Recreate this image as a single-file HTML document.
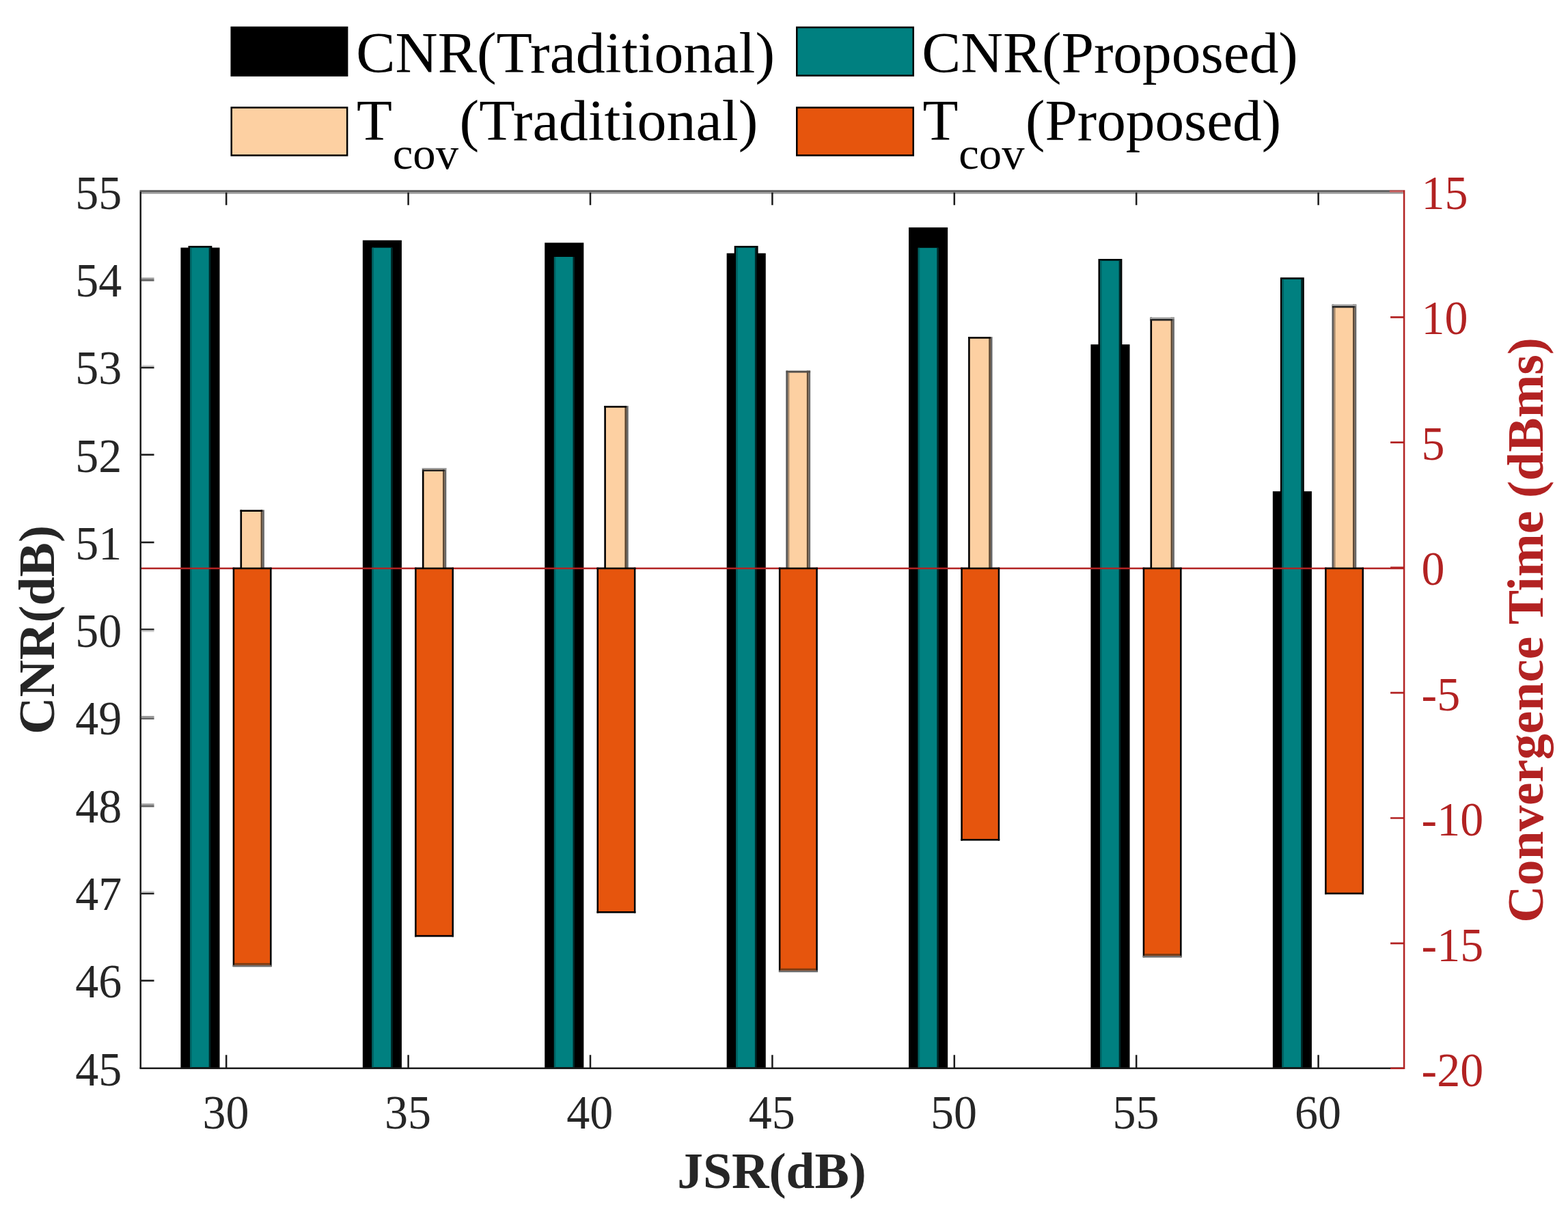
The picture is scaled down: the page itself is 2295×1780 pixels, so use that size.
<!DOCTYPE html>
<html lang="en"><head><meta charset="utf-8"><title>CNR and convergence time versus JSR</title>
<style>html,body{margin:0;padding:0;background:#fff}body{width:2295px;height:1780px;overflow:hidden}svg{display:block}text{font-family:"Liberation Serif","Times New Roman",serif;white-space:pre}</style></head><body>
<svg width="2295" height="1780" viewBox="0 0 2295 1780">
<rect x="0" y="0" width="2295" height="1780" fill="#fff"/>
<g>
<rect x="264.45" y="362.50" width="57.10" height="1201.30" fill="#000"/>
<rect x="530.85" y="351.70" width="57.10" height="1212.10" fill="#000"/>
<rect x="797.25" y="355.30" width="57.10" height="1208.50" fill="#000"/>
<rect x="1063.65" y="370.70" width="57.10" height="1193.10" fill="#000"/>
<rect x="1330.05" y="332.90" width="57.10" height="1230.90" fill="#000"/>
<rect x="1596.45" y="504.20" width="57.10" height="1059.60" fill="#000"/>
<rect x="1862.85" y="719.20" width="57.10" height="844.60" fill="#000"/>
<rect x="276.80" y="361.20" width="32.30" height="1202.30" fill="#008080" stroke="#000" stroke-width="2.60"/>
<rect x="278.10" y="362.50" width="2.50" height="1200.10" fill="#006262"/>
<rect x="305.70" y="362.50" width="2.60" height="1200.10" fill="#002626"/>
<rect x="543.20" y="361.30" width="32.30" height="1202.20" fill="#008080" stroke="#000" stroke-width="2.60"/>
<rect x="544.50" y="362.60" width="2.50" height="1200.00" fill="#006262"/>
<rect x="572.10" y="362.60" width="2.60" height="1200.00" fill="#002626"/>
<rect x="809.60" y="374.70" width="32.30" height="1188.80" fill="#008080" stroke="#000" stroke-width="2.60"/>
<rect x="810.90" y="376.00" width="2.50" height="1186.60" fill="#006262"/>
<rect x="838.50" y="376.00" width="2.60" height="1186.60" fill="#002626"/>
<rect x="1076.00" y="361.20" width="32.30" height="1202.30" fill="#008080" stroke="#000" stroke-width="2.60"/>
<rect x="1077.30" y="362.50" width="2.50" height="1200.10" fill="#006262"/>
<rect x="1104.90" y="362.50" width="2.60" height="1200.10" fill="#002626"/>
<rect x="1342.40" y="361.50" width="32.30" height="1202.00" fill="#008080" stroke="#000" stroke-width="2.60"/>
<rect x="1343.70" y="362.80" width="2.50" height="1199.80" fill="#006262"/>
<rect x="1371.30" y="362.80" width="2.60" height="1199.80" fill="#002626"/>
<rect x="1608.80" y="380.30" width="32.30" height="1183.20" fill="#008080" stroke="#000" stroke-width="2.60"/>
<rect x="1610.10" y="381.60" width="2.50" height="1181.00" fill="#006262"/>
<rect x="1637.70" y="381.60" width="2.60" height="1181.00" fill="#002626"/>
<rect x="1875.20" y="407.50" width="32.30" height="1156.00" fill="#008080" stroke="#000" stroke-width="2.60"/>
<rect x="1876.50" y="408.80" width="2.50" height="1153.80" fill="#006262"/>
<rect x="1904.10" y="408.80" width="2.60" height="1153.80" fill="#002626"/>
</g>
<line x1="205.8" y1="832.0" x2="2055.1" y2="832.0" stroke="#b22222" stroke-width="2.5"/>
<g>
<rect x="352.50" y="747.40" width="31.80" height="84.60" fill="#fdd0a2"/>
<rect x="351.50" y="746.40" width="2.60" height="85.60" fill="#000"/>
<rect x="381.60" y="746.40" width="2.70" height="85.60" fill="#5e4a36"/>
<rect x="384.30" y="746.40" width="2.60" height="85.60" fill="#666"/>
<rect x="351.50" y="746.40" width="32.80" height="2.60" fill="#000"/>
<rect x="618.90" y="686.00" width="31.80" height="146.00" fill="#fdd0a2"/>
<rect x="617.90" y="685.00" width="2.60" height="147.00" fill="#000"/>
<rect x="648.00" y="685.00" width="2.70" height="147.00" fill="#5e4a36"/>
<rect x="650.70" y="685.00" width="2.60" height="147.00" fill="#666"/>
<rect x="617.90" y="685.00" width="35.40" height="2.50" fill="#a0a0a0"/>
<rect x="617.90" y="687.50" width="32.80" height="2.50" fill="#222"/>
<rect x="885.30" y="595.10" width="31.80" height="236.90" fill="#fdd0a2"/>
<rect x="884.30" y="594.10" width="2.60" height="237.90" fill="#000"/>
<rect x="914.40" y="594.10" width="2.70" height="237.90" fill="#5e4a36"/>
<rect x="917.10" y="594.10" width="2.60" height="237.90" fill="#666"/>
<rect x="884.30" y="594.10" width="32.80" height="2.60" fill="#000"/>
<rect x="1151.70" y="543.60" width="31.80" height="288.40" fill="#fdd0a2"/>
<rect x="1150.30" y="542.60" width="2.80" height="289.40" fill="#5a5a5a"/>
<rect x="1153.10" y="545.60" width="2.20" height="286.40" fill="#a08468"/>
<rect x="1180.80" y="542.60" width="2.70" height="289.40" fill="#5e4a36"/>
<rect x="1183.50" y="542.60" width="2.60" height="289.40" fill="#666"/>
<rect x="1150.70" y="542.60" width="35.40" height="3.00" fill="#54504c"/>
<rect x="1418.10" y="494.10" width="31.80" height="337.90" fill="#fdd0a2"/>
<rect x="1417.10" y="493.10" width="2.60" height="338.90" fill="#000"/>
<rect x="1447.20" y="493.10" width="2.70" height="338.90" fill="#5e4a36"/>
<rect x="1449.90" y="493.10" width="2.60" height="338.90" fill="#666"/>
<rect x="1417.10" y="493.10" width="32.80" height="2.60" fill="#000"/>
<rect x="1684.50" y="465.50" width="31.80" height="366.50" fill="#fdd0a2"/>
<rect x="1683.50" y="464.50" width="2.60" height="367.50" fill="#000"/>
<rect x="1713.60" y="464.50" width="2.70" height="367.50" fill="#5e4a36"/>
<rect x="1716.30" y="464.50" width="2.60" height="367.50" fill="#666"/>
<rect x="1683.50" y="464.50" width="35.40" height="2.50" fill="#a0a0a0"/>
<rect x="1683.50" y="467.00" width="32.80" height="2.50" fill="#222"/>
<rect x="1950.90" y="446.50" width="31.80" height="385.50" fill="#fdd0a2"/>
<rect x="1949.50" y="445.50" width="2.80" height="386.50" fill="#5a5a5a"/>
<rect x="1952.30" y="450.50" width="2.20" height="381.50" fill="#a08468"/>
<rect x="1980.00" y="445.50" width="2.70" height="386.50" fill="#5e4a36"/>
<rect x="1982.70" y="445.50" width="2.60" height="386.50" fill="#666"/>
<rect x="1949.90" y="445.50" width="35.40" height="2.50" fill="#a0a0a0"/>
<rect x="1949.90" y="448.00" width="32.80" height="2.50" fill="#222"/>
<rect x="341.70" y="832.00" width="54.90" height="581.80" fill="#e6550d"/>
<rect x="340.70" y="830.75" width="56.90" height="2.50" fill="#000"/>
<rect x="340.70" y="830.75" width="2.50" height="584.25" fill="#000"/>
<rect x="395.10" y="830.75" width="2.50" height="584.25" fill="#000"/>
<rect x="343.20" y="1409.80" width="51.90" height="2.80" fill="#7a3a12"/>
<rect x="340.70" y="1412.60" width="56.90" height="2.80" fill="#6e6e6e"/>
<rect x="608.10" y="832.00" width="54.90" height="538.20" fill="#e6550d"/>
<rect x="607.10" y="830.75" width="56.90" height="2.50" fill="#000"/>
<rect x="607.10" y="830.75" width="2.50" height="540.65" fill="#000"/>
<rect x="661.50" y="830.75" width="2.50" height="540.65" fill="#000"/>
<rect x="607.10" y="1368.80" width="56.90" height="2.60" fill="#000"/>
<rect x="874.50" y="832.00" width="54.90" height="503.40" fill="#e6550d"/>
<rect x="873.50" y="830.75" width="56.90" height="2.50" fill="#000"/>
<rect x="873.50" y="830.75" width="2.50" height="505.85" fill="#000"/>
<rect x="927.90" y="830.75" width="2.50" height="505.85" fill="#000"/>
<rect x="873.50" y="1334.00" width="56.90" height="2.60" fill="#000"/>
<rect x="1140.90" y="832.00" width="54.90" height="589.60" fill="#e6550d"/>
<rect x="1139.90" y="830.75" width="56.90" height="2.50" fill="#000"/>
<rect x="1139.90" y="830.75" width="2.50" height="592.05" fill="#000"/>
<rect x="1194.30" y="830.75" width="2.50" height="592.05" fill="#000"/>
<rect x="1142.40" y="1417.60" width="51.90" height="2.80" fill="#7a3a12"/>
<rect x="1139.90" y="1420.40" width="56.90" height="2.80" fill="#6e6e6e"/>
<rect x="1407.30" y="832.00" width="54.90" height="397.40" fill="#e6550d"/>
<rect x="1406.30" y="830.75" width="56.90" height="2.50" fill="#000"/>
<rect x="1406.30" y="830.75" width="2.50" height="399.85" fill="#000"/>
<rect x="1460.70" y="830.75" width="2.50" height="399.85" fill="#000"/>
<rect x="1406.30" y="1228.00" width="56.90" height="2.60" fill="#000"/>
<rect x="1673.70" y="832.00" width="54.90" height="568.10" fill="#e6550d"/>
<rect x="1672.70" y="830.75" width="56.90" height="2.50" fill="#000"/>
<rect x="1672.70" y="830.75" width="2.50" height="570.55" fill="#000"/>
<rect x="1727.10" y="830.75" width="2.50" height="570.55" fill="#000"/>
<rect x="1675.20" y="1396.10" width="51.90" height="2.80" fill="#7a3a12"/>
<rect x="1672.70" y="1398.90" width="56.90" height="2.80" fill="#6e6e6e"/>
<rect x="1940.10" y="832.00" width="54.90" height="476.00" fill="#e6550d"/>
<rect x="1939.10" y="830.75" width="56.90" height="2.50" fill="#000"/>
<rect x="1939.10" y="830.75" width="2.50" height="478.45" fill="#000"/>
<rect x="1993.50" y="830.75" width="2.50" height="478.45" fill="#000"/>
<rect x="1939.10" y="1306.60" width="56.90" height="2.60" fill="#000"/>
</g>
<g fill="none">
<path stroke="#5e5e5e" stroke-width="2.7" d="M204.50 279.65 H2053.85"/>
<path stroke="#9c9c9c" stroke-width="2.8" d="M207.00 282.4 H2053.85"/>
<path stroke="#1c1c1c" stroke-width="2.5" d="M204.50 1563.80 H2053.85"/>
<path stroke="#1c1c1c" stroke-width="2.5" d="M205.75 280.70 V1563.80"/>
<path stroke="#1c1c1c" stroke-width="2.5" d="M331.2 281.7 v18.5 M331.2 1563.8 v-19.5 M597.6 281.7 v18.5 M597.6 1563.8 v-19.5 M864.0 281.7 v18.5 M864.0 1563.8 v-19.5 M1130.4 281.7 v18.5 M1130.4 1563.8 v-19.5 M1396.8 281.7 v18.5 M1396.8 1563.8 v-19.5 M1663.2 281.7 v18.5 M1663.2 1563.8 v-19.5 M1929.6 281.7 v18.5 M1929.6 1563.8 v-19.5 "/>
<rect x="206.80" y="1434.19" width="18.75" height="2.60" fill="#1c1c1c"/>
<rect x="206.80" y="1304.28" width="18.75" height="2.50" fill="#cfcfcf"/>
<rect x="206.80" y="1306.78" width="18.75" height="2.50" fill="#222"/>
<rect x="206.80" y="1176.27" width="18.75" height="2.60" fill="#9a9a9a"/>
<rect x="206.80" y="1178.87" width="18.75" height="2.60" fill="#646464"/>
<rect x="206.80" y="1047.96" width="18.75" height="2.60" fill="#9a9a9a"/>
<rect x="206.80" y="1050.56" width="18.75" height="2.60" fill="#646464"/>
<rect x="206.80" y="920.15" width="18.75" height="2.50" fill="#222"/>
<rect x="206.80" y="922.65" width="18.75" height="2.50" fill="#cfcfcf"/>
<rect x="206.80" y="792.64" width="18.75" height="2.60" fill="#1c1c1c"/>
<rect x="206.80" y="664.33" width="18.75" height="2.60" fill="#1c1c1c"/>
<rect x="206.80" y="534.42" width="18.75" height="2.50" fill="#cfcfcf"/>
<rect x="206.80" y="536.92" width="18.75" height="2.50" fill="#222"/>
<rect x="206.80" y="406.41" width="18.75" height="2.60" fill="#9a9a9a"/>
<rect x="206.80" y="409.01" width="18.75" height="2.60" fill="#646464"/>
</g>
<g stroke="#b22222" fill="none">
<path stroke-width="2.5" d="M2055.10 278.30 V1565.05"/>
<path stroke="#c65c5c" stroke-width="3" d="M2053.85 279.9 h-20"/>
<path stroke-width="2.5" d="M2055.10 1563.80 h-20"/>
<path stroke-width="2.7" d="M2055.1 1380.8 h-20 M2055.1 1197.5 h-20 M2055.1 1014.2 h-20 M2055.1 830.9 h-20 M2055.1 647.6 h-20 M2055.1 464.3 h-20 "/>
</g>
<g>
<text x="296.50" y="1652.40" font-size="70.30" textLength="68.00" lengthAdjust="spacingAndGlyphs" fill="#262626">30</text>
<text x="562.90" y="1652.40" font-size="70.30" textLength="68.00" lengthAdjust="spacingAndGlyphs" fill="#262626">35</text>
<text x="829.30" y="1652.40" font-size="70.30" textLength="68.00" lengthAdjust="spacingAndGlyphs" fill="#262626">40</text>
<text x="1095.70" y="1652.40" font-size="70.30" textLength="68.00" lengthAdjust="spacingAndGlyphs" fill="#262626">45</text>
<text x="1362.10" y="1652.40" font-size="70.30" textLength="68.00" lengthAdjust="spacingAndGlyphs" fill="#262626">50</text>
<text x="1628.50" y="1652.40" font-size="70.30" textLength="68.00" lengthAdjust="spacingAndGlyphs" fill="#262626">55</text>
<text x="1894.90" y="1652.40" font-size="70.30" textLength="68.00" lengthAdjust="spacingAndGlyphs" fill="#262626">60</text>
</g>
<g>
<text x="110.30" y="1588.70" font-size="70.30" textLength="68.00" lengthAdjust="spacingAndGlyphs" fill="#262626">45</text>
<text x="110.30" y="1460.39" font-size="70.30" textLength="68.00" lengthAdjust="spacingAndGlyphs" fill="#262626">46</text>
<text x="110.30" y="1332.08" font-size="70.30" textLength="68.00" lengthAdjust="spacingAndGlyphs" fill="#262626">47</text>
<text x="110.30" y="1203.77" font-size="70.30" textLength="68.00" lengthAdjust="spacingAndGlyphs" fill="#262626">48</text>
<text x="110.30" y="1075.46" font-size="70.30" textLength="68.00" lengthAdjust="spacingAndGlyphs" fill="#262626">49</text>
<text x="110.30" y="947.15" font-size="70.30" textLength="68.00" lengthAdjust="spacingAndGlyphs" fill="#262626">50</text>
<text x="110.30" y="818.84" font-size="70.30" textLength="68.00" lengthAdjust="spacingAndGlyphs" fill="#262626">51</text>
<text x="110.30" y="690.53" font-size="70.30" textLength="68.00" lengthAdjust="spacingAndGlyphs" fill="#262626">52</text>
<text x="110.30" y="562.22" font-size="70.30" textLength="68.00" lengthAdjust="spacingAndGlyphs" fill="#262626">53</text>
<text x="110.30" y="433.91" font-size="70.30" textLength="68.00" lengthAdjust="spacingAndGlyphs" fill="#262626">54</text>
<text x="110.30" y="305.60" font-size="70.30" textLength="68.00" lengthAdjust="spacingAndGlyphs" fill="#262626">55</text>
</g>
<g>
<text x="2080.50" y="1590.00" font-size="70.30" textLength="90.65" lengthAdjust="spacingAndGlyphs" fill="#b22222">-20</text>
<text x="2080.50" y="1406.53" font-size="70.30" textLength="90.65" lengthAdjust="spacingAndGlyphs" fill="#b22222">-15</text>
<text x="2080.50" y="1223.06" font-size="70.30" textLength="90.65" lengthAdjust="spacingAndGlyphs" fill="#b22222">-10</text>
<text x="2080.50" y="1039.59" font-size="70.30" textLength="56.65" lengthAdjust="spacingAndGlyphs" fill="#b22222">-5</text>
<text x="2080.50" y="856.11" font-size="70.30" textLength="34.00" lengthAdjust="spacingAndGlyphs" fill="#b22222">0</text>
<text x="2080.50" y="672.64" font-size="70.30" textLength="34.00" lengthAdjust="spacingAndGlyphs" fill="#b22222">5</text>
<text x="2080.50" y="489.17" font-size="70.30" textLength="68.00" lengthAdjust="spacingAndGlyphs" fill="#b22222">10</text>
<text x="2080.50" y="305.70" font-size="70.30" textLength="68.00" lengthAdjust="spacingAndGlyphs" fill="#b22222">15</text>
</g>
<text x="991.19" y="1739.20" font-size="73.00" textLength="276.82" lengthAdjust="spacingAndGlyphs" fill="#262626" font-weight="bold">JSR(dB)</text>
<text transform="translate(79.30 922.00) rotate(-90)" x="-153.06" y="0" font-size="73.00" textLength="306.12" lengthAdjust="spacingAndGlyphs" fill="#262626" font-weight="bold">CNR(dB)</text>
<text transform="translate(2258.00 922.50) rotate(-90)" x="-428.37" y="0" font-size="73.00" textLength="856.75" lengthAdjust="spacingAndGlyphs" fill="#b22222" font-weight="bold">Convergence Time (dBms)</text>
<rect x="337.50" y="38.80" width="171.90" height="73.10" fill="#000"/>
<rect x="1166.25" y="40.05" width="170.50" height="70.60" fill="#008080" stroke="#000" stroke-width="2.50"/>
<rect x="338.75" y="157.45" width="169.40" height="70.00" fill="#fdd0a2" stroke="#000" stroke-width="2.50"/>
<rect x="1166.25" y="157.45" width="170.50" height="70.00" fill="#e6550d" stroke="#000" stroke-width="2.50"/>
<g>
<text x="521.30" y="106.00" font-size="85.00" textLength="612.71" lengthAdjust="spacingAndGlyphs" fill="#000">CNR(Traditional)</text>
<text x="1349.30" y="106.00" font-size="85.00" textLength="550.51" lengthAdjust="spacingAndGlyphs" fill="#000">CNR(Proposed)</text>
<text><tspan x="522.00" y="204.70" font-size="85.00" textLength="51.92" lengthAdjust="spacingAndGlyphs" fill="#000">T</tspan><tspan x="574.80" y="247.00" font-size="65.00" textLength="96.20" lengthAdjust="spacingAndGlyphs" fill="#000">cov</tspan><tspan x="672.50" y="204.70" font-size="85.00" textLength="436.87" lengthAdjust="spacingAndGlyphs" fill="#000">(Traditional)</tspan></text>
<text><tspan x="1350.50" y="204.70" font-size="85.00" textLength="51.92" lengthAdjust="spacingAndGlyphs" fill="#000">T</tspan><tspan x="1403.30" y="247.00" font-size="65.00" textLength="96.20" lengthAdjust="spacingAndGlyphs" fill="#000">cov</tspan><tspan x="1501.00" y="204.70" font-size="85.00" textLength="374.12" lengthAdjust="spacingAndGlyphs" fill="#000">(Proposed)</tspan></text>
</g>
</svg></body></html>
